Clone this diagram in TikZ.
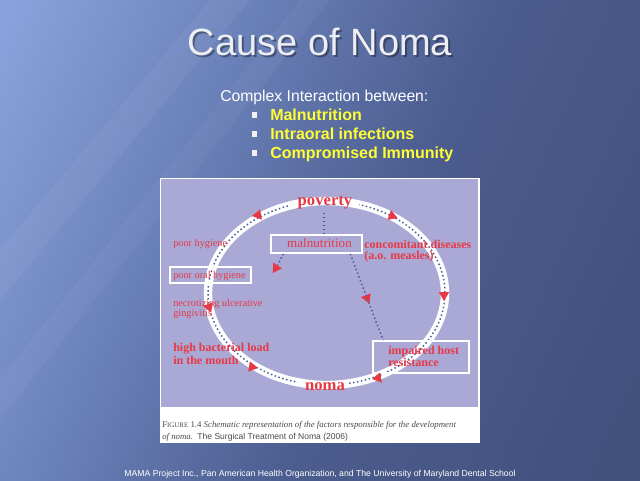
\documentclass[tikz,border=0pt]{standalone}
\usepackage{fontspec}
\setmainfont{Liberation Serif}
\setsansfont{Liberation Sans}
\usetikzlibrary{shapes.geometric}
\definecolor{bgA}{HTML}{8AA2DB}
\definecolor{bgB}{HTML}{687EB6}
\definecolor{bgC}{HTML}{4B5C8E}
\definecolor{bgD}{HTML}{394770}
\definecolor{panel}{HTML}{AAA9D5}
\definecolor{figred}{RGB}{232,56,70}
\definecolor{dotblue}{HTML}{4A5A9E}
\definecolor{titlewhite}{HTML}{ECEEF4}
\definecolor{bulletyellow}{HTML}{FFFF33}
\definecolor{capgray}{HTML}{4A4A4A}
\pgfdeclarehorizontalshading{slidebg}{100bp}{color(0bp)=(bgA); color(18bp)=(bgA); color(38bp)=(bgB); color(56bp)=(bgC); color(100bp)=(bgD)}
\begin{document}
\begin{tikzpicture}[x=0.75pt,y=-0.75pt,
  lbl/.style={text=figred, inner sep=0, anchor=base west, font=\fontsize{7.7}{9}\selectfont},
  lblb/.style={text=figred, inner sep=0, anchor=base west, font=\bfseries\fontsize{9}{10}\selectfont},
  big/.style={text=figred, inner sep=0, anchor=base, font=\bfseries\fontsize{12.5}{14}\selectfont},
  wbox/.style={draw=white, line width=1.3pt, inner sep=0},
  tri/.style={regular polygon, regular polygon sides=3, fill=figred, inner sep=0, minimum size=9pt},
  dotline/.style={draw=dotblue, line width=1.1pt, dash pattern=on 1.1pt off 1.9pt},
  bul/.style={fill=white!88!gray, inner sep=0, minimum size=3.8pt},
  bultxt/.style={text=bulletyellow, inner sep=0, anchor=base west, font=\sffamily\bfseries\fontsize{12}{14}\selectfont}]
\useasboundingbox (0,0) rectangle (640,480);
\shade[shading=slidebg, shading angle=-24] (0,0) rectangle (640,480);
% faint streaks
\fill[white, opacity=0.05] (0,250) -- (210,0) -- (250,0) -- (0,300) -- cycle;
\fill[white, opacity=0.04] (0,380) -- (300,0) -- (330,0) -- (0,420) -- cycle;
% title
\node[font=\sffamily\fontsize{28.5}{30}\selectfont, text=black, opacity=0.35, inner sep=0, anchor=base] (titleshadow) at (322,57) {Cause of Noma};
\node[font=\sffamily\fontsize{28.5}{30}\selectfont, text=titlewhite, inner sep=0, anchor=base] (title) at (320,55) {Cause of Noma};
\node[font=\sffamily\fontsize{11.8}{14}\selectfont, text=white, inner sep=0, anchor=base west] (intro) at (220,101) {Complex Interaction between:};
\node[bul] (b1) at (254.5,115) {};
\node[bul] (b2) at (254.5,134) {};
\node[bul] (b3) at (254.5,153) {};
\node[bultxt] (t1) at (270,120) {Malnutrition};
\node[bultxt] (t2) at (270,139) {Intraoral infections};
\node[bultxt] (t3) at (270,158) {Compromised Immunity};
% figure
\fill[white] (160,178) rectangle (480,443);
\fill[panel] (161,179) rectangle (477.5,407);
\draw[white, line width=6.3pt] (326.5,293) ellipse [x radius=88.875pt, y radius=69pt];
\draw[dotline] plot[domain=-79:74, samples=80, smooth] ({326.5+118.5*cos(\x)},{293-92*sin(\x)});
\draw[dotline] plot[domain=109:256, samples=80, smooth] ({326.5+118.5*cos(\x)},{293-92*sin(\x)});
\node[big] (poverty) at (325,205) {poverty};
\node[big] (noma) at (325,390) {noma};
\node[wbox, minimum width=68.25pt, minimum height=13.5pt] (malbox) at (316.5,244) {};
\node[text=figred, inner sep=0, anchor=base, font=\fontsize{9.8}{11}\selectfont] (maln) at (319.5,247) {malnutrition};
\node[lblb] (conc1) at (364,248) {concomitant diseases};
\node[lblb] (conc2) at (364,259.5) {(a.o. measles)};
\node[lbl] (hyg) at (173,246) {poor hygiene};
\node[wbox, minimum width=60.75pt, minimum height=12pt] (oralbox) at (210.5,275) {};
\node[lbl] (oral) at (173,278) {poor oral hygiene};
\node[lbl] (necro1) at (173,306) {necrotizing ulcerative};
\node[lbl] (necro2) at (173,316) {gingivitis};
\node[lblb] (high1) at (173,351.5) {high bacterial load};
\node[lblb] (high2) at (173,364) {in the mouth};
\node[wbox, minimum width=72pt, minimum height=24pt] (hostbox) at (421,357) {};
\node[lblb] (host1) at (388,354) {impaired host};
\node[lblb] (host2) at (388,366.5) {resistance};
% connectors
\draw[dotline] ([xshift=5.6pt]malbox.north) -- ([xshift=5.6pt,yshift=-1pt]malbox.north |- poverty.south);
\node[tri, rotate=147] (arrA) at (276,268) {};
\node[tri, rotate=-158] (arrB) at (367,298) {};
\draw[dotline] ([xshift=10pt]malbox.south west) -- (arrA);
\draw[dotline] ([xshift=-9.5pt]malbox.south east) -- ([xshift=8.25pt]hostbox.north west);
% ring triangles
\node[tri, rotate=-20] (r1) at (258,215) {};
\node[tri, rotate=10] (r2) at (392,216) {};
\node[tri, rotate=180] (r3) at (444,295) {};
\node[tri, rotate=200] (r4) at (209,307) {};
\node[tri, rotate=20] (r5) at (252,367) {};
\node[tri, rotate=-20] (r6) at (378,378) {};
% caption
\node[text=capgray, inner sep=0, anchor=base west, font=\fontsize{6.6}{8}\selectfont] (cap1) at (162,427) {F{\fontsize{5.2}{6}\selectfont IGURE} 1.4 \textit{Schematic representation of the factors responsible for the development}};
\node[text=capgray, inner sep=0, anchor=base west, font=\fontsize{6.6}{8}\selectfont] (cap2) at (162,439.5) {\textit{of noma.}\ \ {\sffamily\fontsize{6.4}{8}\selectfont The Surgical Treatment of Noma (2006)}};
% footer
\node[text=white, inner sep=0, anchor=base, font=\sffamily\fontsize{6.5}{8}\selectfont] (footer) at (320,476) {MAMA Project Inc., Pan American Health Organization, and The University of Maryland Dental School};
\end{tikzpicture}
\end{document}
